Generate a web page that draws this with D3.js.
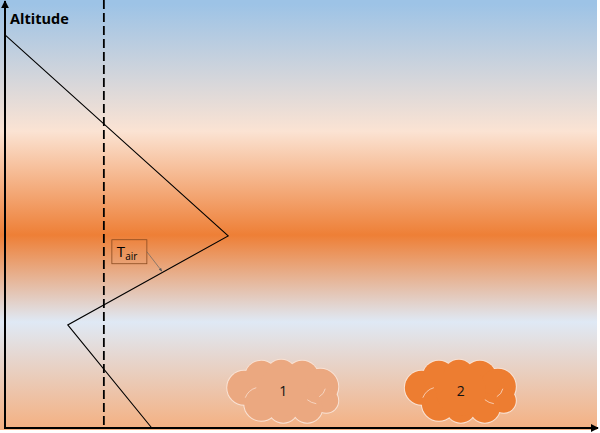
<!DOCTYPE html>
<html>
<head>
<meta charset="utf-8">
<script src="https://cdn.jsdelivr.net/npm/d3@7"></script>
<style>
  html, body { margin: 0; padding: 0; background: #fff; }
  svg { display: block; }
  text { font-family: "Open Sans", "Liberation Sans", sans-serif; }
</style>
</head>
<body>
<svg id="chart" width="600" height="433"></svg>
<script>
// temperature profile (arbitrary units, 0..100) vs altitude (0..100)
var profileTemp = [0, 37.7, 10.6, 24.8];
var profileAlt  = [92.7, 45.3, 24.3, 0];

// isotherm shown dashed
var dashTemp = 16.7;

// clouds: position in temp/altitude units, label, fill
var cloudTemp  = [47.0, 77.0];
var cloudAlt   = [8.8, 8.8];
var cloudLabel = ['1', '2'];
var cloudFill  = ['#eba880', '#ed7d31'];

// background bands: altitude -> colour
var bandAlt    = [100, 70, 45.5, 25, 0];
var bandColor  = ['#9dc3e6', '#fbe3d3', '#ee7f36', '#dfe9f5', '#f4b183'];

var labelAlt = 'Altitude';

var svg = d3.select('#chart');
var margin = {left: 5, right: 3, top: 4, bottom: 5};
var W = 600, H = 433;

var x = d3.scaleLinear().domain([0, 100]).range([margin.left, W - margin.right]);
var y = d3.scaleLinear().domain([0, 100]).range([H - margin.bottom, margin.top]);

var defs = svg.append('defs');

var grad = defs.append('linearGradient')
    .attr('id', 'bg')
    .attr('gradientUnits', 'userSpaceOnUse')
    .attr('x1', 0).attr('x2', 0)
    .attr('y1', y(100)).attr('y2', y(0));
grad.selectAll('stop')
    .data(bandAlt)
    .enter().append('stop')
    .attr('offset', function(d){ return (y(d) - y(100)) / (y(0) - y(100)); })
    .attr('stop-color', function(d, i){ return bandColor[i]; });

defs.append('marker')
    .attr('id', 'arrow')
    .attr('viewBox', '0 0 10 10')
    .attr('refX', 9).attr('refY', 5)
    .attr('markerWidth', 4).attr('markerHeight', 4)
    .attr('orient', 'auto')
  .append('path')
    .attr('d', 'M0,0L10,5L0,10z')
    .attr('fill', '#000');

defs.append('marker')
    .attr('id', 'arrowSmall')
    .attr('viewBox', '0 0 10 10')
    .attr('refX', 9).attr('refY', 5)
    .attr('markerWidth', 5).attr('markerHeight', 5)
    .attr('orient', 'auto')
  .append('path')
    .attr('d', 'M0,1L10,5L0,9z')
    .attr('fill', '#555');

// background
svg.append('rect')
    .attr('x', 0).attr('y', 0)
    .attr('width', W - 3).attr('height', H - 3)
    .attr('fill', 'url(#bg)');

// dashed isotherm
svg.append('line')
    .attr('x1', x(dashTemp)).attr('x2', x(dashTemp))
    .attr('y1', 0).attr('y2', y(0))
    .attr('stroke', '#000')
    .attr('stroke-width', 1.8)
    .attr('stroke-dasharray', '9,4');

// temperature profile
var pts = profileTemp.map(function(t, i){ return [t, profileAlt[i]]; });
var line = d3.line()
    .x(function(d){ return x(d[0]); })
    .y(function(d){ return y(d[1]); });
svg.append('path')
    .datum(pts)
    .attr('d', line)
    .attr('fill', 'none')
    .attr('stroke', '#000')
    .attr('stroke-width', 1.1);

// T_air callout, pointing to the profile between the 2nd and 3rd points
var callT = 26.5;
var a = pts[1], b = pts[2];
var callA = a[1] + (callT - a[0]) / (b[0] - a[0]) * (b[1] - a[1]);
var bx = x(dashTemp) + 8, by = y(callA) - 33;
svg.append('rect')
    .attr('x', bx).attr('y', by)
    .attr('width', 35).attr('height', 24)
    .attr('fill', 'none')
    .attr('stroke', '#8a4a20')
    .attr('stroke-width', 0.8);
var tl = svg.append('text')
    .attr('x', bx + 5).attr('y', by + 17)
    .attr('font-size', 15)
    .attr('fill', '#000');
tl.append('tspan').text('T');
tl.append('tspan').attr('font-size', 10).attr('dy', 3).text('air');
svg.append('line')
    .attr('x1', bx + 35).attr('y1', by + 12)
    .attr('x2', x(callT)).attr('y2', y(callA) - 1.5)
    .attr('stroke', '#666')
    .attr('stroke-width', 0.7)
    .attr('marker-end', 'url(#arrowSmall)');

// clouds built from overlapping bumps [dx, dy, r]
var bumps = [[-39,-3,17],[-22,-14,16],[-2,-16,15],[19,-14,16],[37,-4,18],
             [43,10,12],[24,17,15],[0,17,15],[-22,13,17],[0,0,25]];
var clouds = svg.selectAll('g.cloud')
    .data(cloudTemp)
    .enter().append('g')
    .attr('class', 'cloud')
    .attr('transform', function(d, i){
        return 'translate(' + x(d) + ',' + y(cloudAlt[i]) + ')';
    });
clouds.each(function(d, i){
    var g = d3.select(this);
    g.selectAll('circle.edge').data(bumps).enter().append('circle')
        .attr('class', 'edge')
        .attr('cx', function(c){ return c[0]; })
        .attr('cy', function(c){ return c[1]; })
        .attr('r', function(c){ return c[2]; })
        .attr('fill', '#f9e2d4')
        .attr('stroke', '#f9e2d4')
        .attr('stroke-width', 2);
    g.selectAll('circle.fill').data(bumps).enter().append('circle')
        .attr('class', 'fill')
        .attr('cx', function(c){ return c[0]; })
        .attr('cy', function(c){ return c[1]; })
        .attr('r', function(c){ return c[2]; })
        .attr('fill', cloudFill[i]);
    // inner crease lines
    g.append('path')
        .attr('d', 'M-38,7 A17,17 0 0 1 -27,-3 M33,13 A18,18 0 0 1 24,9 M42,-2 A12,12 0 0 1 36,6')
        .attr('fill', 'none')
        .attr('stroke', '#f9e2d4')
        .attr('stroke-opacity', 0.75)
        .attr('stroke-width', 1);
    g.append('text')
        .attr('y', 5)
        .attr('text-anchor', 'middle')
        .attr('font-size', 14)
        .attr('fill', '#111')
        .text(cloudLabel[i]);
});

// axes
svg.append('line')
    .attr('x1', x(0)).attr('y1', y(0) + 1)
    .attr('x2', x(0)).attr('y2', 1)
    .attr('stroke', '#000')
    .attr('stroke-width', 2)
    .attr('marker-end', 'url(#arrow)');
svg.append('line')
    .attr('x1', x(0) - 1).attr('y1', y(0))
    .attr('x2', W - 2).attr('y2', y(0))
    .attr('stroke', '#000')
    .attr('stroke-width', 2)
    .attr('marker-end', 'url(#arrow)');

svg.append('text')
    .attr('x', 10).attr('y', 24)
    .attr('font-size', 14.5)
    .attr('font-weight', 'bold')
    .attr('fill', '#000')
    .text(labelAlt);
</script>
</body>
</html>
